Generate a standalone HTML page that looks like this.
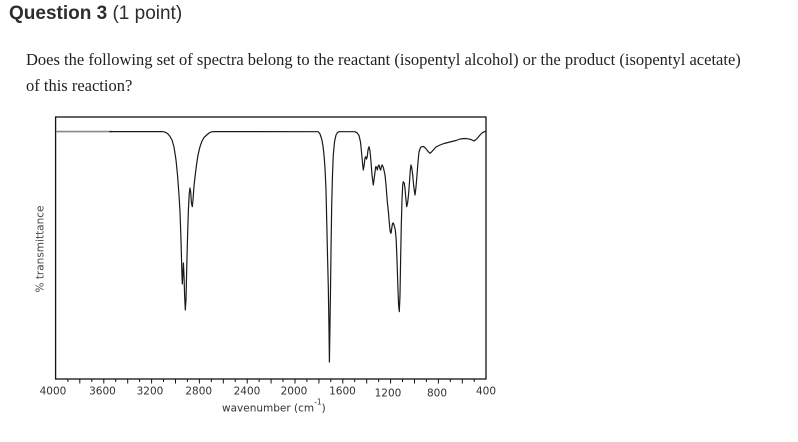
<!DOCTYPE html>
<html>
<head>
<meta charset="utf-8">
<style>
  html, body { margin:0; padding:0; background:#fff; }
  body { width:798px; height:442px; position:relative; overflow:hidden; }
  .title { position:absolute; left:9px; top:3px; font-family:"Liberation Sans", sans-serif; font-size:19px; color:#2d2d2d; white-space:nowrap; }
  .title b { font-weight:bold; }
  .body { position:absolute; left:26px; font-family:"Liberation Serif", serif; font-size:16.5px; line-height:20px; color:#222; white-space:nowrap; }
  svg { position:absolute; left:0; top:0; }
</style>
</head>
<body>
<div class="title"><b>Question 3</b> (1 point)</div>
<div class="body" style="top:50px;">Does the following set of spectra belong to the reactant (isopentyl alcohol) or the product (isopentyl acetate)</div>
<div class="body" style="top:75.5px;">of this reaction?</div>

<svg width="798" height="442" viewBox="0 0 798 442" xmlns="http://www.w3.org/2000/svg">
  <!-- frame -->
  <rect x="55.6" y="117" width="430.4" height="262" fill="none" stroke="#111" stroke-width="1.3"/>
  <!-- ticks -->
  <g stroke="#111" stroke-width="1">
    <line x1="67.9" y1="379" x2="67.9" y2="382"/>
    <line x1="79.8" y1="379" x2="79.8" y2="383.5"/>
    <line x1="91.8" y1="379" x2="91.8" y2="382"/>
    <line x1="103.8" y1="379" x2="103.8" y2="383.5"/>
    <line x1="115.7" y1="379" x2="115.7" y2="382"/>
    <line x1="127.7" y1="379" x2="127.7" y2="383.5"/>
    <line x1="139.6" y1="379" x2="139.6" y2="382"/>
    <line x1="151.6" y1="379" x2="151.6" y2="383.5"/>
    <line x1="163.5" y1="379" x2="163.5" y2="382"/>
    <line x1="175.5" y1="379" x2="175.5" y2="383.5"/>
    <line x1="187.4" y1="379" x2="187.4" y2="382"/>
    <line x1="199.4" y1="379" x2="199.4" y2="383.5"/>
    <line x1="211.3" y1="379" x2="211.3" y2="382"/>
    <line x1="223.3" y1="379" x2="223.3" y2="383.5"/>
    <line x1="235.2" y1="379" x2="235.2" y2="382"/>
    <line x1="247.2" y1="379" x2="247.2" y2="383.5"/>
    <line x1="259.1" y1="379" x2="259.1" y2="382"/>
    <line x1="271.1" y1="379" x2="271.1" y2="383.5"/>
    <line x1="283.0" y1="379" x2="283.0" y2="382"/>
    <line x1="295.0" y1="379" x2="295.0" y2="383.5"/>
    <line x1="306.9" y1="379" x2="306.9" y2="382"/>
    <line x1="318.9" y1="379" x2="318.9" y2="383.5"/>
    <line x1="330.8" y1="379" x2="330.8" y2="382"/>
    <line x1="342.8" y1="379" x2="342.8" y2="383.5"/>
    <line x1="354.7" y1="379" x2="354.7" y2="382"/>
    <line x1="366.7" y1="379" x2="366.7" y2="383.5"/>
    <line x1="378.6" y1="379" x2="378.6" y2="382"/>
    <line x1="390.6" y1="379" x2="390.6" y2="383.5"/>
    <line x1="402.5" y1="379" x2="402.5" y2="382"/>
    <line x1="414.5" y1="379" x2="414.5" y2="383.5"/>
    <line x1="426.4" y1="379" x2="426.4" y2="382"/>
    <line x1="438.4" y1="379" x2="438.4" y2="383.5"/>
    <line x1="450.3" y1="379" x2="450.3" y2="382"/>
    <line x1="462.3" y1="379" x2="462.3" y2="383.5"/>
    <line x1="474.2" y1="379" x2="474.2" y2="382"/>
  </g>
  <!-- x tick labels -->
  <g font-family="'DejaVu Sans', 'Liberation Sans', sans-serif" font-size="10.5" fill="#333" text-anchor="middle">
    <text x="53" y="394.5">4000</text>
    <text x="102.5" y="394.5">3600</text>
    <text x="150" y="394.5">3200</text>
    <text x="198.7" y="394.5">2800</text>
    <text x="247" y="394.5">2400</text>
    <text x="294" y="394.5">2000</text>
    <text x="342.5" y="394.5">1600</text>
    <text x="388" y="396.5">1200</text>
    <text x="437" y="396.5">800</text>
    <text x="486" y="394.5">400</text>
  </g>
  <text x="222" y="411.5" font-family="'DejaVu Sans', 'Liberation Sans', sans-serif" font-size="10.5" fill="#333">wavenumber (cm<tspan dy="-7" font-size="7.5">-1</tspan><tspan dy="7">)</tspan></text>
  <!-- y label -->
  <text transform="translate(43.5,249) rotate(-90)" text-anchor="middle" font-family="'DejaVu Sans', 'Liberation Sans', sans-serif" font-size="10.5" fill="#444">% transmittance</text>

  <!-- spectrum -->
  <line x1="56" y1="131.6" x2="112" y2="131.6" stroke="#888" stroke-width="1.6"/>
  <polyline fill="none" stroke="#1a1a1a" stroke-width="1.2" stroke-linejoin="round" stroke-linecap="round" points="
    110,131.6 162,131.6
    164,131.8 166,132.6 168,134 170,136.5 172,140 174,147 176,160 177.5,175 179,195 180,212 181,240 181.8,270 182.3,284 182.8,275 183.4,263 184,275 184.6,295 185.3,310 186,300 186.8,265 187.6,235 188.4,210 189.2,194 190,188 190.7,192 191.4,203 192.3,206.7 193,200 194,186 195,177 196.5,165 198,155 200,146.7 202,141 204,137.5 206.7,135 209,133 211.7,131.8 214,131.6
    318.3,131.7 320,134 321.7,139 323,146 324,155 325,168 326,190 326.7,220 327.5,255 328.3,287 329,330 329.4,362 329.9,330 330.5,290 331,250 331.7,205 332.5,175 333.3,155 334.5,142 336,135 337.5,132.5 339,131.7 355,131.7
    357,132.8 359,135.5 360.5,142 361.5,152 362.5,163 363.3,170 364.2,165 365,158 365.7,156.7 366.5,159 367.2,157 368,150 369,146.7 370,151 371,161.7 372,175 373.3,185 374.5,176 375.7,166.7 376.5,167 377.3,170 378.2,166 379,165 380,169 380.7,170 381.5,166 382.3,165 383.5,168 385,175 386,185 387.3,201.7 388.5,213 389.5,225 390.3,232 391,233.3 391.8,228 392.5,223.5 393.3,223 394.2,225.5 395.3,230 396.2,240 397,260 397.8,285 398.6,305 399.3,311.7 400,295 400.7,255 401.3,225 402,200 402.7,185 403.3,181.7 404.2,183 405,188.3 405.8,198 406.7,206.7 407.6,203 408.5,195 409.5,182 410.3,170 411,165 411.8,168 412.7,175 413.8,187 415,195 416,187 417,175 418,162 419,152 420.5,147.5 421.7,146.7 423.5,146.5 425,147.7 427,150 428.3,151.7 430,153.3 431.5,152 433.3,150 436,147 440,145 444,143.5 448,142.5 452,141.5 456,140.5 460,139 465,138.5 468,138.8 471,139.5 474,141 476,139.5 478,137.5 480,135 482,133 484,131.8 486,131.2"/>
</svg>
</body>
</html>
